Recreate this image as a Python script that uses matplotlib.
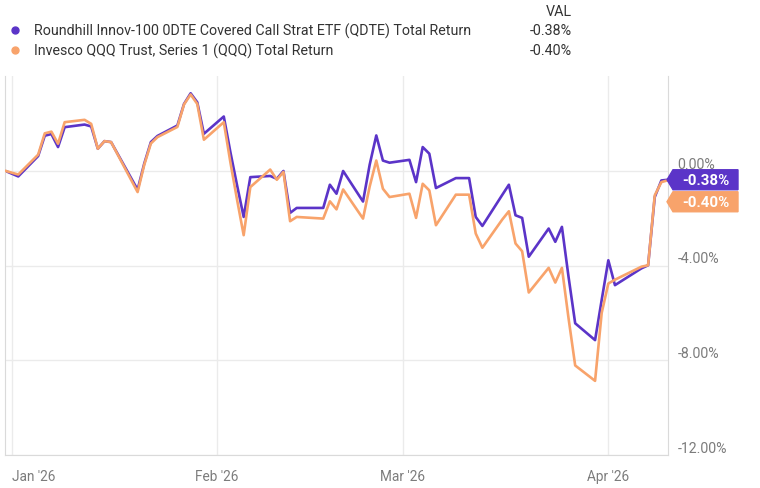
import pandas as pd
import matplotlib
matplotlib.use("Agg")
import matplotlib.pyplot as plt
import matplotlib.dates as mdates
from matplotlib.patches import Polygon
from matplotlib.lines import Line2D
from matplotlib.transforms import IdentityTransform

plt.rcParams['font.family'] = ['Roboto', 'DejaVu Sans']

# trading days shown in the chart
dates = [
    "2025-12-31", "2026-01-02", "2026-01-05", "2026-01-06", "2026-01-07", "2026-01-08", "2026-01-09",
    "2026-01-12", "2026-01-13", "2026-01-14", "2026-01-15", "2026-01-16",
    "2026-01-20", "2026-01-21", "2026-01-22", "2026-01-23",
    "2026-01-26", "2026-01-27", "2026-01-28", "2026-01-29", "2026-01-30",
    "2026-02-02", "2026-02-03", "2026-02-04", "2026-02-05", "2026-02-06",
    "2026-02-09", "2026-02-10", "2026-02-11", "2026-02-12", "2026-02-13",
    "2026-02-17", "2026-02-18", "2026-02-19", "2026-02-20",
    "2026-02-23", "2026-02-24", "2026-02-25", "2026-02-26", "2026-02-27",
    "2026-03-02", "2026-03-03", "2026-03-04", "2026-03-05", "2026-03-06",
    "2026-03-09", "2026-03-10", "2026-03-11", "2026-03-12", "2026-03-13",
    "2026-03-16", "2026-03-17", "2026-03-18", "2026-03-19", "2026-03-20",
    "2026-03-23", "2026-03-24", "2026-03-25", "2026-03-26", "2026-03-27",
    "2026-03-30", "2026-03-31", "2026-04-01", "2026-04-02",
    "2026-04-06", "2026-04-07", "2026-04-08", "2026-04-09", "2026-04-10",
]

# total return in %
qdte = [
    0.00, -0.24, 0.62, 1.48, 1.55, 1.00, 1.84,
    1.95, 1.87, 0.93, 1.25, 1.21,
    -0.80, 0.30, 1.21, 1.47,
    1.91, 2.82, 3.27, 2.89, 1.56,
    2.29, 0.78, -0.61, -1.95, -0.27,
    -0.22, -0.34, -0.01, -1.78, -1.57,
    -1.57, -0.59, -0.97, -0.01,
    -1.30, 0.25, 1.49, 0.43, 0.34,
    0.46, -0.48, 1.00, 0.72, -0.73,
    -0.31, -0.31, -0.31, -1.95, -2.33,
    -1.02, -0.59, -1.88, -1.99, -3.63,
    -2.44, -3.00, -2.37, -4.48, -6.44,
    -7.15, -5.45, -3.78, -4.83,
    -4.12, -3.99, -1.11, -0.41, -0.38,
]
qqq = [
    0.00, -0.16, 0.68, 1.58, 1.65, 1.14, 2.05,
    2.15, 1.98, 0.93, 1.25, 1.21,
    -0.90, 0.25, 1.15, 1.42,
    1.85, 2.80, 3.22, 2.82, 1.31,
    2.05, 0.35, -1.22, -2.72, -0.69,
    0.05, -0.38, -0.05, -2.13, -1.95,
    -2.02, -1.29, -1.63, -0.79,
    -2.02, -0.67, 0.43, -0.76, -1.11,
    -0.97, -1.99, -0.55, -0.83, -2.30,
    -1.01, -1.01, -1.01, -2.65, -3.25,
    -2.06, -1.71, -3.07, -3.40, -5.14,
    -4.10, -4.72, -4.10, -6.23, -8.22,
    -8.87, -6.00, -4.76, -4.60,
    -4.05, -3.99, -1.04, -0.48, -0.40,
]

names = ["Roundhill Innov-100 0DTE Covered Call Strat ETF (QDTE) Total Return",
         "Invesco QQQ Trust, Series 1 (QQQ) Total Return"]
last_vals = ["-0.38%", "-0.40%"]
y_ticks = [0, -4, -8, -12]
y_labels = ["0.00%", "-4.00%", "-8.00%", "-12.00%"]
x_ticks = ["2026-01-01", "2026-02-01", "2026-03-01", "2026-04-01"]
x_labels = ["Jan '26", "Feb '26", "Mar '26", "Apr '26"]

PURPLE = '#5b34c8'
ORANGE = '#f8a36b'
GRID = '#ebebeb'
TXT = '#333333'
TICK = '#7c7c7c'

W, H = 760, 489
fig = plt.figure(figsize=(W / 100, H / 100), dpi=100)
ax = fig.add_axes([5 / W, 1 - 456 / H, (668 - 5) / W, (456 - 77) / H])

d = pd.to_datetime(dates)
ax.plot(d, qqq, color=ORANGE, lw=1.9, zorder=3, solid_joinstyle='round')
ax.plot(d, qdte, color=PURPLE, lw=1.9, zorder=2, solid_joinstyle='round')

ax.set_xlim(pd.Timestamp("2025-12-31"), pd.Timestamp("2026-04-10"))
ax.set_ylim(-12, 4)

# axes look
ax.set_xticks(pd.to_datetime(x_ticks))
ax.set_xticklabels(x_labels)
ax.yaxis.tick_right()
ax.set_yticks(y_ticks)
ax.set_yticklabels(y_labels)
ax.tick_params(axis='x', length=0, pad=10, labelsize=9.8, labelcolor=TICK)
ax.tick_params(axis='y', length=0, pad=7, labelsize=10.2, labelcolor=TICK)
for t in ax.get_yticklabels():
    t.set_va('bottom')
ax.get_xticklabels()[0].set_ha('left')
ax.grid(True, color=GRID, lw=1)
ax.set_axisbelow(True)
ax.spines['top'].set_visible(False)
for s in ['left', 'right', 'bottom']:
    ax.spines[s].set_color('#dadada')

# legend on top
fig.text(572 / W, 1 - 12 / H, "VAL", ha='right', va='center', fontsize=10.3, color=TXT)
for i, (name, val, c) in enumerate(zip(names, last_vals, [PURPLE, ORANGE])):
    yy = 1 - (31 + 20 * i) / H
    fig.add_artist(Line2D([15 / W], [yy], marker='o', markersize=5, color=c,
                          transform=fig.transFigure))
    fig.text(34 / W, yy, name, ha='left', va='center', fontsize=10.3, color=TXT)
    fig.text(572 / W, yy, val, ha='right', va='center', fontsize=10.3, color=TXT)

# value tags at the right edge (display pixels)
tip_x, tip_y = ax.transData.transform((mdates.date2num(d[-1]), qdte[-1]))
for i, (val, c) in enumerate(zip(last_vals, [PURPLE, ORANGE])):
    ty = tip_y - 22 * i
    x0 = tip_x + 5
    pts = [(tip_x - 1, ty), (x0, ty + 10), (x0 + 65, ty + 10), (x0 + 65, ty - 10), (x0, ty - 10)]
    fig.add_artist(Polygon(pts, closed=True, color=c, transform=IdentityTransform()))
    fig.text((x0 + 33) / W, ty / H, val, ha='center', va='center', fontsize=10.8,
             fontweight='bold', color='white')

fig.savefig("out.png", dpi=100)
